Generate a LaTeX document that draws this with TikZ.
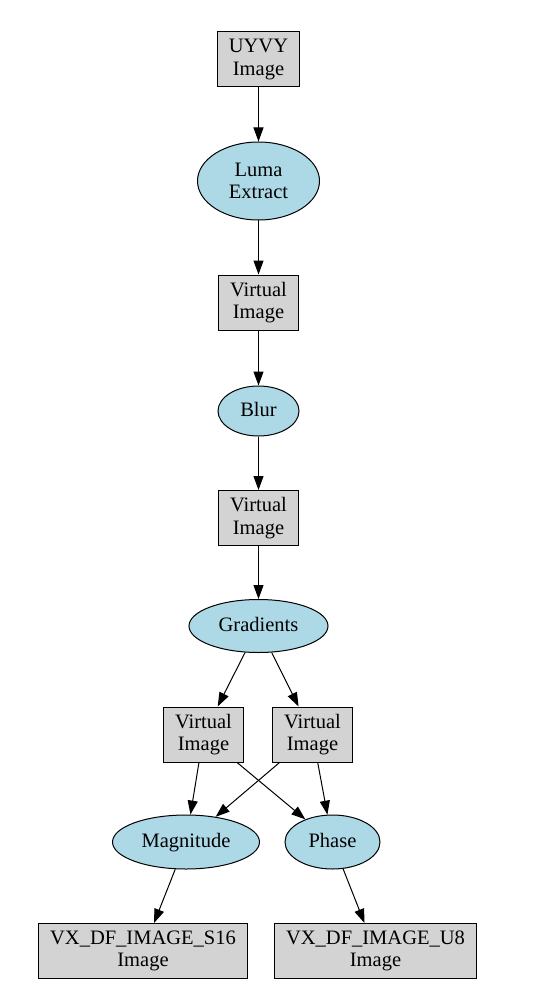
\documentclass[tikz,border=0pt]{standalone}
\usepackage{fontspec}
\setmainfont{Liberation Serif}
\usepackage{tikz}
\usepackage{xcolor}
\usetikzlibrary{shapes.geometric,arrows.meta}
\definecolor{imggray}{RGB}{211,211,211}
\definecolor{procblue}{RGB}{173,216,230}

\begin{document}
\begin{tikzpicture}[x=1pt,y=-1pt,
		imgbox/.style={draw,fill=imggray,rectangle,align=center,inner xsep=11.5pt,inner ysep=0pt,minimum height=55pt,font=\fontsize{20.5}{22.5}\selectfont},
		proc/.style={draw,fill=procblue,ellipse,align=center,inner sep=0pt,font=\fontsize{20.5}{22.5}\selectfont},
		oneline/.style={text height=14pt,text depth=3pt},
		>={Triangle[length=14pt,width=10pt]},line width=1pt]
		\useasboundingbox (0,0) rectangle (547,992);
		\node[imgbox] (uyvy) at (258.5,59.5) {UYVY\\Image};
		\node[proc,minimum width=122pt,minimum height=78pt] (luma) at (258.5,181) {Luma\\Extract};
		\node[imgbox] (virt1) at (258.5,302.5) {Virtual\\Image};
		\node[proc,oneline,minimum width=81pt,minimum height=50pt] (blur) at (258.5,411) {Blur};
		\node[imgbox] (virt2) at (258.5,518) {Virtual\\Image};
		\node[proc,oneline,minimum width=139pt,minimum height=53pt] (grad) at (258.5,626) {Gradients};
		\node[imgbox] (virtL) at (203.5,734.5) {Virtual\\Image};
		\node[imgbox] (virtR) at (312.5,734.5) {Virtual\\Image};
		\node[proc,oneline,minimum width=147pt,minimum height=54pt] (mag) at (186,842) {Magnitude};
		\node[proc,oneline,minimum width=95pt,minimum height=54pt] (phase) at (332.5,842) {Phase};
		\node[imgbox] (s16) at (143,951) {VX\_DF\_IMAGE\_S16\\Image};
		\node[imgbox] (u8) at (375.5,951) {VX\_DF\_IMAGE\_U8\\Image};
		\draw[->] (uyvy) -- (luma);
		\draw[->] (luma) -- (virt1);
		\draw[->] (virt1) -- (blur);
		\draw[->] (blur) -- (virt2);
		\draw[->] (virt2) -- (grad);
		\draw[->] (grad) -- (virtL);
		\draw[->] (grad) -- (virtR);
		\draw[->] (virtL) -- (mag);
		\draw[->] (virtL) -- (phase);
		\draw[->] (virtR) -- (mag);
		\draw[->] (virtR) -- (phase);
		\draw[->] (mag) -- (s16);
		\draw[->] (phase) -- (u8);
\end{tikzpicture}
\end{document}
